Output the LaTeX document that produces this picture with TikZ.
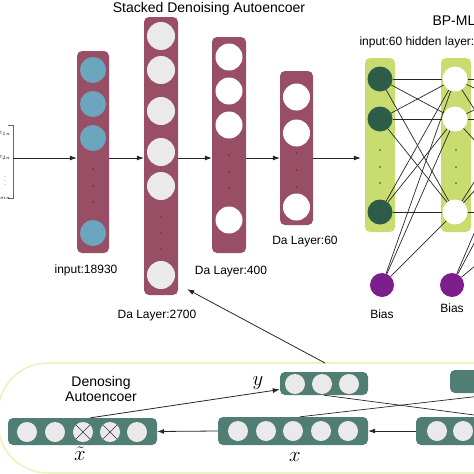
\documentclass[tikz,border=0pt]{standalone}
\usepackage[no-math]{fontspec}
\setmainfont{Liberation Sans}
\usepackage{tikz}
\usetikzlibrary{arrows.meta}

\definecolor{sdaered}{RGB}{152,78,101}
\definecolor{inblue}{RGB}{108,166,190}
\definecolor{unitgrey}{RGB}{234,234,234}
\definecolor{mlpgreen}{RGB}{201,220,112}
\definecolor{mlpdark}{RGB}{45,92,72}
\definecolor{biaspurple}{RGB}{124,30,140}
\definecolor{daeteal}{RGB}{80,126,116}
\definecolor{outlineyellow}{RGB}{236,243,192}

\begin{document}
\begin{tikzpicture}[x=1pt, y=-1pt, >={Latex[length=7pt,width=5pt]}]
	\tikzset{
		layer/.style = {rectangle, fill=sdaered, rounded corners=5pt},
		mlpcol/.style = {rectangle, fill=mlpgreen, rounded corners=5pt},
		daebox/.style = {rectangle, fill=daeteal, rounded corners=5pt},
		unit/.style = {circle, inner sep=0pt, minimum size=27pt},
		small/.style = {circle, inner sep=0pt, minimum size=20pt, fill=unitgrey},
		noisy/.style = {small, path picture={
			\draw[black!80] (path picture bounding box.south west) -- (path picture bounding box.north east)
			(path picture bounding box.north west) -- (path picture bounding box.south east);}},
		lab/.style = {anchor=base, font=\fontsize{12}{14}\selectfont},
		head/.style = {anchor=base, font=\fontsize{14}{16}\selectfont},
		mathlab/.style = {anchor=base, font=\fontsize{21}{24}\selectfont},
		entry/.style = {anchor=east, font=\scriptsize, inner sep=0pt},
		wire/.style = {black!85, line width=0.7pt},
		arr/.style = {->, black!85, line width=0.8pt}
	}
	\useasboundingbox (0,0) rectangle (474,474);
	\clip (0,0) rectangle (474,474);

	% titles
	\node[head] (sdaetitle) at (209,12) {Stacked Denoising Autoencoer};
	\node[head, anchor=base west] (mlptitle) at (429,25) {BP-MLP};
	\node[lab, anchor=base west] (mlpsize) at (356,45) {input:60 hidden layer:};

	% input matrix
	\draw[black!60, line width=0.8pt] (8,125) -- (13,125) -- (13,198) -- (8,198);
	\coordinate (brk) at (13,158);
	\coordinate (lvl) at (0,158);
	\node[entry] (m1) at (11,133) {$x_{1n}$};
	\node[entry] (m2) at (11,157) {$x_{2n}$};
	\node[entry, font=\tiny] (m3) at (6,178) {$\vdots$};
	\node[entry] (m4) at (11,197) {$x_{mn}$};

	% stacked layers
	\node[layer, minimum width=32pt, minimum height=202pt] (col1) at (93,152) {};
	\node[layer, minimum width=34pt, minimum height=278pt] (col2) at (161,156) {};
	\node[layer, minimum width=34pt, minimum height=216pt] (col3) at (229,145) {};
	\node[layer, minimum width=33pt, minimum height=154pt] (col4) at (296.5,148) {};

	\foreach \y [count=\i] in {70,104,138,233}
		\node[unit, minimum size=26pt, fill=inblue] (in\i) at (93,\y) {};
	\foreach \y [count=\i] in {36,70,111,152,186,275}
		\node[unit, minimum size=28pt, fill=unitgrey] (a\i) at (161,\y) {};
	\foreach \y [count=\i] in {57,91,125,220}
		\node[unit, fill=white] (b\i) at (229,\y) {};
	\foreach \y [count=\i] in {97,133,207}
		\node[unit, fill=white] (c\i) at (296.5,\y) {};

	\foreach \y in {169,186,202} \fill[black!75] (93,\y) circle (0.9);
	\foreach \y in {217,233,249} \fill[black!75] (161,\y) circle (0.9);
	\foreach \y in {155,172,188} \fill[black!75] (229,\y) circle (0.9);
	\foreach \y in {153,170,187} \fill[black!75] (296.5,\y) circle (0.9);

	\node[lab] (lin) at (86,273) {input:18930};
	\node[lab] (l2700) at (157,318) {Da Layer:2700};
	\node[lab] (l400) at (231,274) {Da Layer:400};
	\node[lab] (l60) at (305,244) {Da Layer:60};

	% BP-MLP
	\node[mlpcol, minimum width=30pt, minimum height=174pt] (g1) at (380,145) {};
	\node[mlpcol, minimum width=30pt, minimum height=174pt] (g2) at (456,145) {};
	\foreach \y [count=\i] in {79,119,212} {
		\node[unit, minimum size=25pt, fill=mlpdark] (p\i) at (380,\y) {};
		\node[unit, minimum size=25pt, fill=white] (q\i) at (455,\y) {};
	}
	\foreach \y in {150,167,183} {
		\fill[black!75] (380,\y) circle (0.9);
		\fill[black!75] (456,\y) circle (0.9);
	}
	\node[unit, minimum size=24pt, fill=biaspurple] (bias1) at (382,285) {};
	\node[unit, minimum size=24pt, fill=biaspurple] (bias2) at (452,285) {};
	\node[lab] (lb1) at (382,318) {Bias};
	\node[lab] (lb2) at (452,312) {Bias};

	\coordinate (r1) at (540,79);
	\coordinate (r2) at (540,119);
	\coordinate (r3) at (540,212);
	\foreach \s in {p1,p2,p3,bias1}
		\foreach \t in {q1,q2,q3}
			\draw[wire] (\s) -- (\t);
	\foreach \s in {q1,q2,q3,bias2}
		\foreach \t in {r1,r2,r3}
			\draw[wire] (\s) -- (\t);

	% forward arrows
	\draw[arr] (brk) -- (col1.west |- lvl);
	\draw[arr] (col1.east |- lvl) -- (col2.west |- lvl);
	\draw[arr] (col2.east |- lvl) -- (col3.west |- lvl);
	\draw[arr] (col3.east |- lvl) -- (col4.west |- lvl);
	\draw[arr] (col4.east |- lvl) -- ([xshift=-4pt]g1.west |- lvl);

	% denoising autoencoder
	\draw[outlineyellow, line width=1.6pt, rounded corners=50pt] (-2,363) rectangle (600,473);
	\node[daebox, minimum width=149pt, minimum height=27pt] (xtbox) at (82.5,431.5) {};
	\node[daebox, minimum width=88pt, minimum height=23pt] (ybox) at (324,383.5) {};
	\node[daebox, minimum width=150pt, minimum height=28pt] (xbox) at (293,431) {};
	\node[daebox, minimum width=144pt, minimum height=28pt] (zbox) at (488,431) {};
	\node[daebox, minimum width=110pt, minimum height=23pt] (topbox) at (505,381.5) {};

	\node[small] (xt1) at (27,432) {};
	\node[small] (xt2) at (55,432) {};
	\node[noisy] (xt3) at (83,432) {};
	\node[noisy] (xt4) at (110,432) {};
	\node[small] (xt5) at (137,432) {};
	\foreach \x [count=\i] in {295,322,349}
		\node[small] (y\i) at (\x,384) {};
	\foreach \x [count=\i] in {238,266,293,321,348}
		\node[small] (x\i) at (\x,431) {};
	\foreach \x [count=\i] in {437,463,490}
		\node[small] (z\i) at (\x,431) {};

	\node[mathlab] (xtlab) at (80,460) {$\tilde{x}$};
	\node[mathlab] (ylab) at (258,385) {$y$};
	\node[mathlab] (xlab) at (295,461) {$x$};
	\node[head, align=center, anchor=center] (daetitle) at (101,389) {Denosing\\[-1pt]Autoencoer};

	\coordinate (sdae) at (325,363);
	\draw[arr] (sdae) -- ([xshift=9pt,yshift=6pt]col2.south east);
	\draw[arr] ([xshift=8pt]xtbox.north) -- ([yshift=-6pt]ybox.west);
	\draw[arr] (zbox.west) -- (xbox.east);
	\draw[arr] (xbox.west) -- (xtbox.east);
	\draw[wire] (ybox.south) -- (zbox.north);
	\draw[wire] ([xshift=7pt]xbox.north) -- (topbox.south);
\end{tikzpicture}
\end{document}
